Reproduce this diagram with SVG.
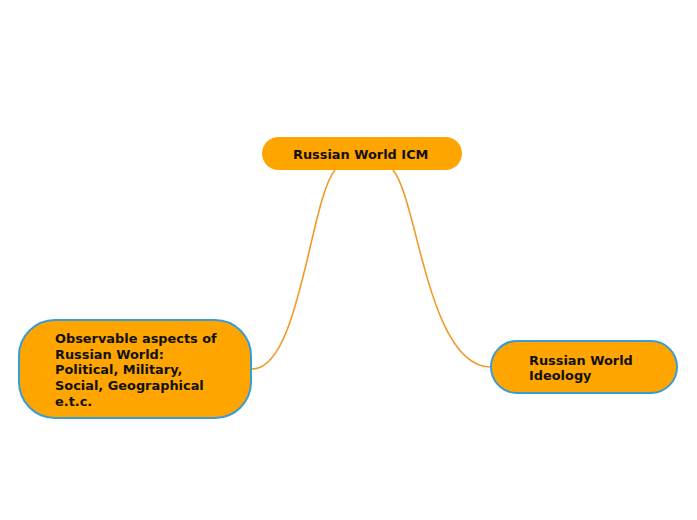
<svg xmlns="http://www.w3.org/2000/svg" width="697" height="520" viewBox="0 0 697 520">
<style>
.node{fill:#ffa500;}
.sub{stroke:#3a9bd5;stroke-width:2;}
.t{font-family:"DejaVu Sans","Verdana",sans-serif;font-weight:bold;font-size:12.9px;fill:#111;}
.c{fill:none;stroke:#f09a28;stroke-width:1.6;}
</style>
<rect width="697" height="520" fill="#ffffff"/>
<g id="connectors">
<path class="c" d="M335,170 C310,200 300,369 252,369"/>
<path class="c" d="M393,170 C418,200 428,367 491,367"/>
</g>
<g id="root">
<rect class="node" x="262" y="137" width="200" height="33" rx="16.5"/>
<text class="t" x="293" y="159">Russian World ICM</text>
</g>
<g id="left">
<rect class="node sub" x="19" y="320" width="232" height="98" rx="36"/>
<text class="t" x="55" y="343">Observable aspects of</text>
<text class="t" x="55" y="358.7">Russian World:</text>
<text class="t" x="55" y="374.4">Political, Military,</text>
<text class="t" x="55" y="390.1">Social, Geographical</text>
<text class="t" x="55" y="405.8">e.t.c.</text>
</g>
<g id="right">
<rect class="node sub" x="491" y="341" width="186" height="52" rx="26"/>
<text class="t" x="529" y="364.5">Russian World</text>
<text class="t" x="529" y="380">Ideology</text>
</g>
</svg>
